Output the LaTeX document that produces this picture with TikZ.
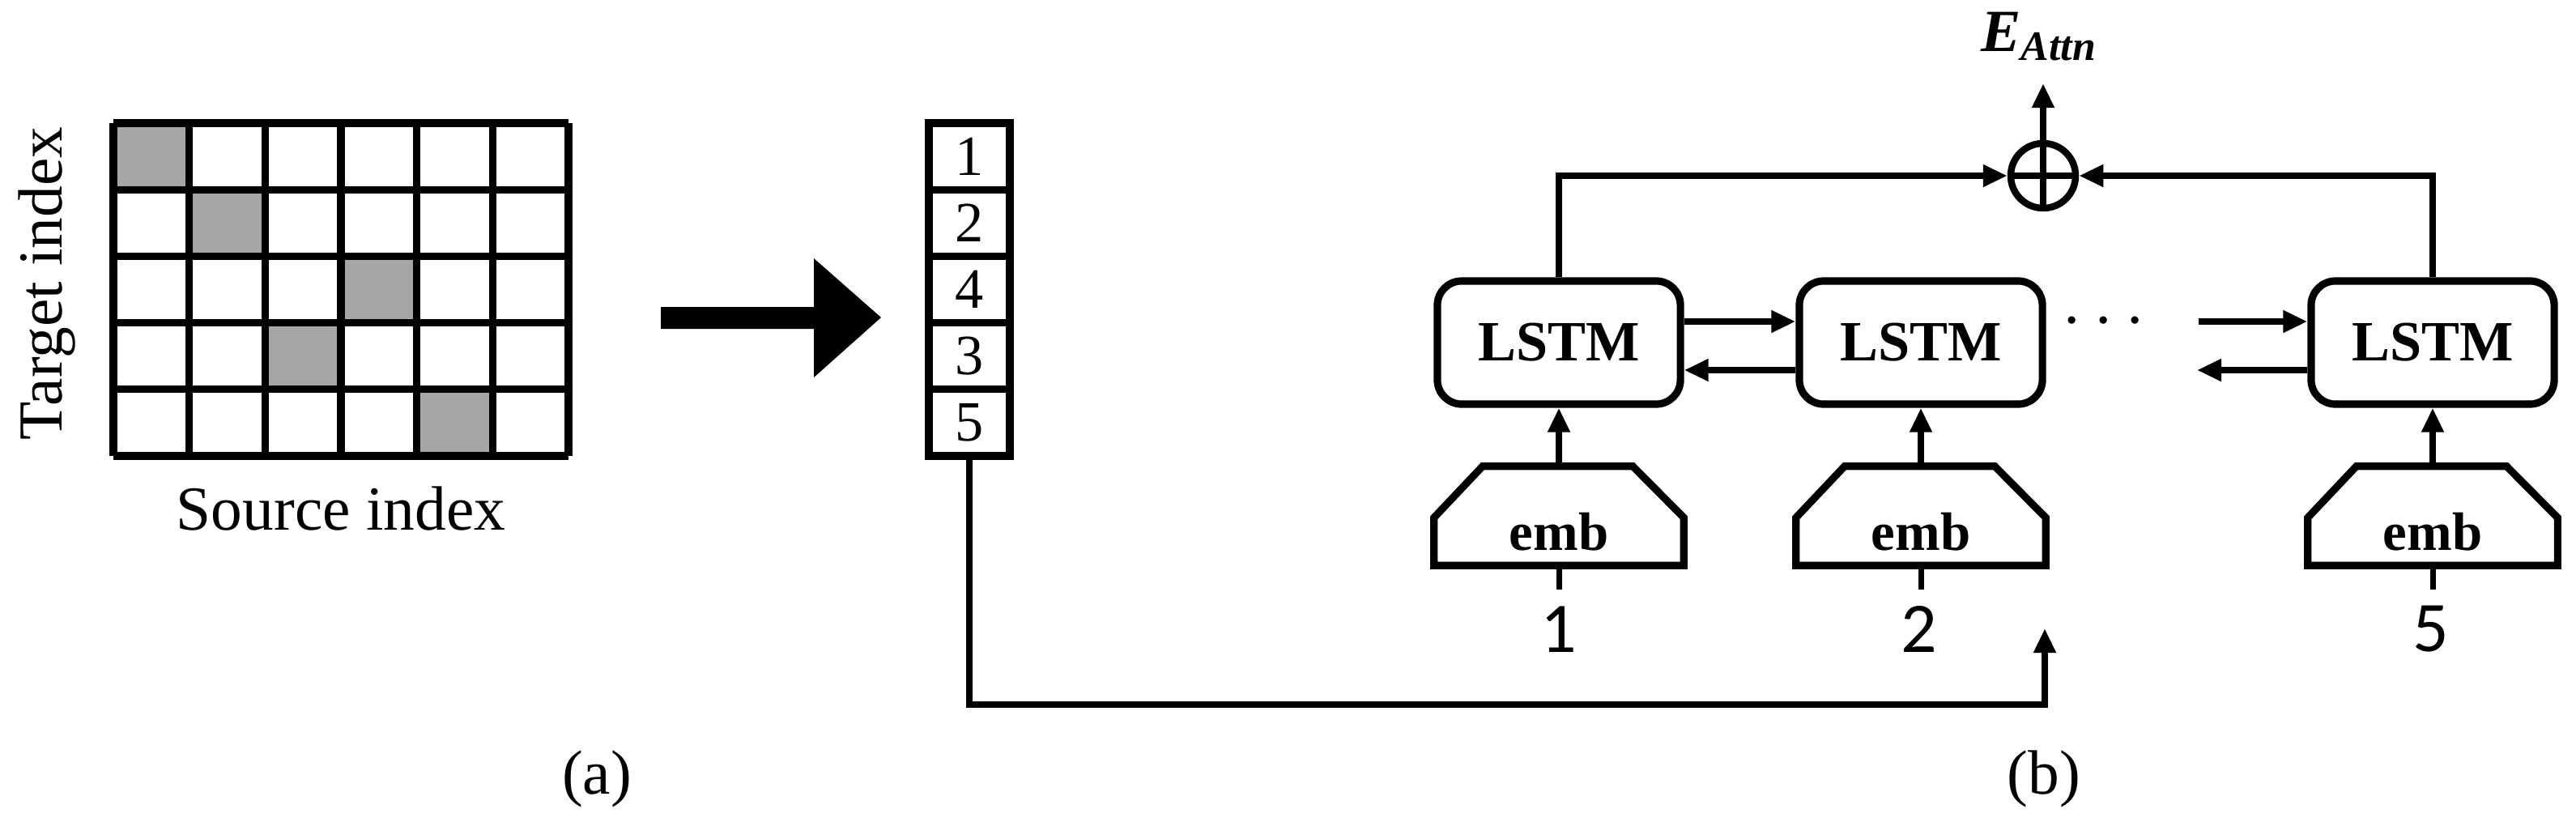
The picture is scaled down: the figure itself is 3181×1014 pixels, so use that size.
\documentclass[tikz,border=0pt]{standalone}
\usepackage{fontspec}
\setmainfont{Liberation Serif}
\newfontfamily\numfont{Carlito}
\usetikzlibrary{arrows.meta,calc}
\definecolor{cellgray}{HTML}{A6A6A6}
\begin{document}
\begin{tikzpicture}[x=0.01cm,y=-0.01cm,
  thick line/.style={line width=2.6pt},
  conn/.style={line width=2.2pt,-{Triangle[length=0.3cm,width=0.26cm]}},
  lstm/.style={draw,line width=2.6pt,rounded corners=0.3cm,minimum width=3.0cm,minimum height=1.52cm,font=\fontsize{20}{24}\selectfont\bfseries,inner sep=0pt},
  emb/.style={minimum width=3.07cm,minimum height=1.21cm,inner sep=0pt,font=\fontsize{19}{22}\selectfont\bfseries},
  vcell/.style={draw,line width=2.6pt,minimum width=1.0cm,minimum height=0.822cm,inner sep=0pt,font=\fontsize{20}{24}\selectfont},
  num/.style={font=\numfont\fontsize{25}{28}\selectfont},
  lab/.style={font=\fontsize{22}{26}\selectfont}]
\useasboundingbox (0,0) rectangle (3181,1014);
% grid
\foreach \r/\c in {0/0,1/1,2/3,3/2,4/4}
  \fill[cellgray] ({140+\c*93.67},{152+\r*82.2}) rectangle ({140+(\c+1)*93.67},{152+(\r+1)*82.2});
\foreach \i in {0,...,6} \draw[thick line] ({140+\i*93.67},152) -- ({140+\i*93.67},563);
\foreach \j in {0,...,5} \draw[thick line] (140,{152+\j*82.2}) -- (702,{152+\j*82.2});
\node[lab,rotate=90] (tgt) at (58,350) {Target index};
\node[lab] (src) at (421,628) {Source index};
\node[lab] (a) at (737,962) {(a)};
% big arrow
\fill (816,379) -- (1005,379) -- (1005,319) -- (1088,392) -- (1005,466) -- (1005,406) -- (816,406) -- cycle;
% vector
\foreach \k/\t in {1/1,2/2,3/4,4/3,5/5}
  \node[vcell] (v\k) at (1197,{152+(\k-0.5)*82.2}) {\t};
% LSTMs
\node[lstm] (l1) at (1925,423) {LSTM};
\node[lstm] (l2) at (2372,423) {LSTM};
\node[lstm] (l3) at (3004,423) {LSTM};
% embs
\foreach \n/\x in {1/1925,2/2372,3/3004}{
  \node[emb] (e\n) at (\x,637) {};
  \node[emb,anchor=center] at (\x,657) {emb};
  \draw[line width=2.6pt,line join=miter] (e\n.south west) -- ($(e\n.south west)+(0,-59)$) -- ($(e\n.north west)+(60,0)$) -- ($(e\n.north east)+(-63,0)$) -- ($(e\n.south east)+(0,-59)$) -- (e\n.south east) -- cycle;
}
\node[num] (n1) at (1925,777) {1};
\node[num] (n2) at (2370,777) {2};
\node[num] (n3) at (3002,777) {5};
\foreach \n in {1,2,3}{
  \draw[line width=2pt] (e\n.south) -- ++(0,30);
  \draw[conn] (e\n.north) -- (l\n.south);
}
% horizontal
\draw[conn] ($(l1.east)+(0,-26)$) -- ($(l2.west)+(0,-26)$);
\draw[conn] ($(l2.west)+(0,34)$) -- ($(l1.east)+(0,34)$);
\coordinate (r1) at (2715,397);
\coordinate (r2) at (2713,457);
\draw[conn] (r1) -- (r1 -| l3.west);
\draw[conn] (r2 -| l3.west) -- (r2);
\node[font=\fontsize{30}{34}\selectfont] (dots) at (2598,398) {$\cdots$};
% oplus
\node[draw,circle,line width=2.4pt,minimum size=0.8cm,inner sep=0pt] (op) at (2523,217) {};
\draw[line width=2.4pt] (op.north) -- (op.south) (op.west) -- (op.east);
\draw[conn] (l1.north) |- (op.west);
\draw[conn] (l3.north) |- (op.east);
\coordinate (top) at (2523,103);
\draw[conn] (op.center) -- (top);
\node[font=\fontsize{21}{24}\selectfont\bfseries\itshape] (ea) at (2518,45) {E\textsubscript{Attn}};
% bottom
\coordinate (bt) at (2525,776);
\draw[conn] (v5.south) |- (bt |- 0,870) -- (bt);
\node[lab] (b) at (2524,962) {(b)};
\end{tikzpicture}
\end{document}
